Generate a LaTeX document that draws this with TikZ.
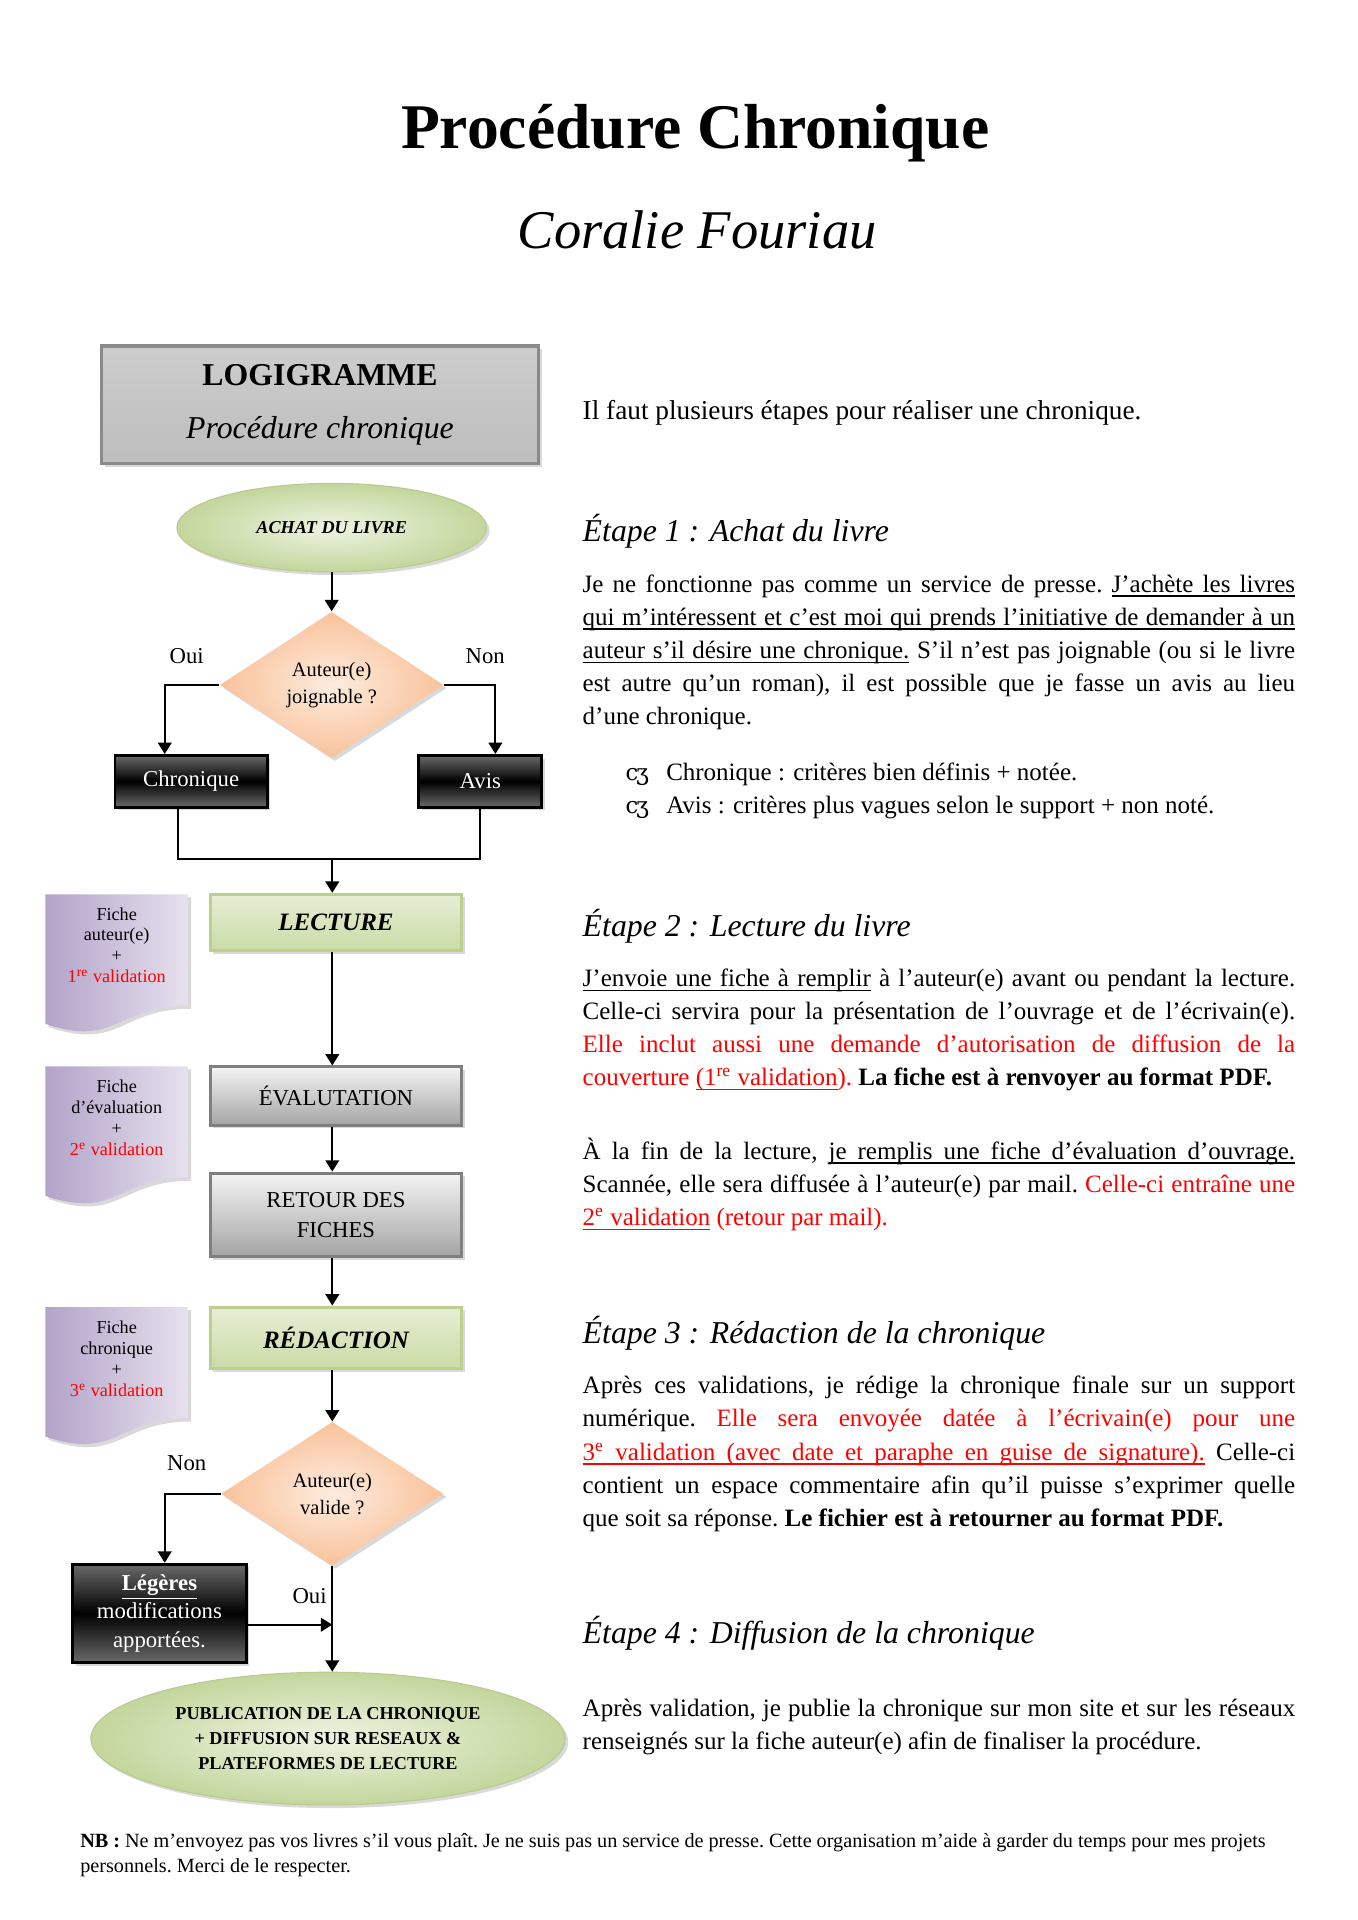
\documentclass[tikz,border=0pt]{standalone}
\usepackage{fontspec}
\setmainfont{Liberation Serif}
\newfontfamily\dvserif{DejaVu Serif}
\usetikzlibrary{shapes.geometric,shadows,arrows.meta,calc}
\def\pu{0.5407pt}
\newlength\colw \setlength\colw{313.6pt}
\newcommand\bodyfont{\fontsize{11}{14.6}\selectfont}
\newcommand\colpar[1]{\parbox[t]{\colw}{\bodyfont\frenchspacing\hyphenpenalty=10000\exhyphenpenalty=10000\leavevmode #1}}
% word-by-word underline with stretchable underlined spaces
\newcommand\ulw[1]{\leavevmode\setbox0\hbox{#1}\rlap{\vrule width\wd0 height -1.4pt depth 2.0pt}\box0\relax}
\def\ulsp{\leaders\hrule height -1.4pt depth 2.0pt\hskip\fontdimen2\font plus\fontdimen3\font minus\fontdimen4\font\relax}
\def\uline#1{\ulloop#1 \ulend}
\def\ulloop#1 #2\ulend{\ulw{#1}\ifx\relax#2\relax\else\ulsp\ulloop#2\ulend\fi}
\definecolor{hdrT}{HTML}{CDCDCD}
\definecolor{hdrB}{HTML}{BDBDBD}
\definecolor{hdrD}{HTML}{8A8A8A}
\definecolor{grnT}{HTML}{E6EED4}
\definecolor{grnB}{HTML}{CADBA6}
\definecolor{grnD}{HTML}{BBD08F}
\definecolor{gryT}{HTML}{F4F4F4}
\definecolor{gryB}{HTML}{A4A4A4}
\definecolor{gryD}{HTML}{7F7F7F}
\definecolor{blkT}{HTML}{6A6A6A}
\definecolor{ovlI}{HTML}{EEF4E2}
\definecolor{ovlO}{HTML}{C3D69C}
\definecolor{ovlD}{HTML}{B8CC8E}
\definecolor{dmdI}{HTML}{FDECDF}
\definecolor{dmdO}{HTML}{F9C29A}
\definecolor{purL}{HTML}{B3A3C9}
\definecolor{purR}{HTML}{E6E1EE}
\definecolor{red}{HTML}{FF0000}
\begin{document}
\begin{tikzpicture}[x=\pu,y=-\pu,
 shd/.style={drop shadow={shadow xshift=1.4pt,shadow yshift=-1.4pt,opacity=0.3}},
 ln/.style={line width=0.9pt},
 arr/.style={ln,-{Triangle[width=6pt,length=5pt]}},
 hdrbox/.style={rectangle,inner sep=0pt,top color=hdrT,bottom color=hdrB,draw=hdrD,line width=1.5pt,shd,align=center},
 greenbox/.style={rectangle,inner sep=0pt,top color=grnT,bottom color=grnB,draw=grnD,line width=1.3pt,shd,font=\fontsize{11}{13}\selectfont\bfseries\itshape},
 graybox/.style={rectangle,inner sep=0pt,top color=gryT,bottom color=gryB,draw=gryD,line width=1.3pt,shd,align=center,font=\fontsize{10}{13}\selectfont},
 blackbox/.style={rectangle,inner sep=0pt,top color=blkT,bottom color=blkT,middle color=black,draw=black,line width=1.3pt,shd,text=white,align=center,font=\fontsize{10}{12.7}\selectfont},
 greenoval/.style={ellipse,inner sep=0pt,inner color=ovlI,outer color=ovlO,draw=ovlD,line width=0.5pt,shd,align=center},
 decision/.style={diamond,inner sep=0pt,inner color=dmdI,outer color=dmdO,shd,align=center,font=\fontsize{9}{11.9}\selectfont},
 lbl/.style={inner sep=0pt,anchor=base,font=\fontsize{10}{12}\selectfont},
 doctext/.style={inner sep=0pt,align=center,font=\fontsize{8}{9.2}\selectfont},
 hd/.style={inner sep=0pt,anchor=base west,font=\fontsize{14}{17}\selectfont\itshape},
 para/.style={inner sep=0pt,anchor=base west},
 docshape/.style={left color=purL,right color=purR,shd},
]
\useasboundingbox (0,0) rectangle (1105,1563);

% titles
\node[inner sep=0pt,anchor=base,font=\fontsize{28}{34}\selectfont\bfseries] (title) at (566,121) {Procédure Chronique};
\node[inner sep=0pt,anchor=base,font=\fontsize{24}{29}\selectfont\itshape] (author) at (567.5,202) {Coralie Fouriau};

% header box
\node[hdrbox,minimum width=356*\pu,minimum height=96*\pu,font=\fontsize{14}{23.2}\selectfont] (hdr) at (260.5,329.5) {\textbf{LOGIGRAMME}\\\textit{Procédure chronique}};

% flowchart
\coordinate (ax) at (270.5,0);
\node[greenoval,minimum width=252*\pu,minimum height=72*\pu,font=\fontsize{8}{10}\selectfont\bfseries\itshape] (achat) at (270,429.5) {ACHAT DU LIVRE};
\node[decision,minimum width=182*\pu,minimum height=119*\pu] (d1) at (270,557.5) {Auteur(e)\\joignable ?};
\node[lbl] (oui1) at (152,540) {Oui};
\node[lbl] (non1) at (395,540) {Non};
\node[blackbox,minimum width=124*\pu,minimum height=42*\pu] (chron) at (155.6,636) {Chronique};
\node[blackbox,minimum width=100*\pu,minimum height=42*\pu] (avis) at (391,636) {Avis};
\node[greenbox,minimum width=205*\pu,minimum height=46*\pu] (lect) at (273.5,751) {LECTURE};
\node[graybox,minimum width=205*\pu,minimum height=47.5*\pu] (eval) at (273.5,892.3) {ÉVALUTATION};
\node[graybox,minimum width=205*\pu,minimum height=68*\pu] (ret) at (273.5,989) {RETOUR DES\\FICHES};
\node[greenbox,minimum width=205*\pu,minimum height=50*\pu] (redac) at (273.5,1089) {RÉDACTION};
\node[decision,minimum width=181*\pu,minimum height=117*\pu] (d2) at (270.5,1216) {Auteur(e)\\valide ?};
\node[lbl] (non2) at (152,1197) {Non};
\node[lbl] (oui2) at (252,1305) {Oui};
\node[blackbox,minimum width=141*\pu,minimum height=80*\pu] (leg) at (129.8,1313.4) {\underline{\textbf{Légères}}\\modifications\\apportées.};
\node[greenoval,minimum width=386*\pu,minimum height=108*\pu,font=\fontsize{8}{10.8}\selectfont\bfseries] (pub) at (267,1415.3) {PUBLICATION DE LA CHRONIQUE\\+ DIFFUSION SUR RESEAUX \&\\PLATEFORMES DE LECTURE};

% connectors
\draw[arr] (achat.south) -- (d1.north);
\draw[arr] (d1.west) -| ($(chron.north west)!0.33!(chron.north east)$);
\draw[arr] (d1.east) -| ($(avis.north west)!0.62!(avis.north east)$);
\coordinate (m1) at (270.5,699);
\draw[ln] ($(chron.south west)!0.417!(chron.south east)$) |- (m1) -| (avis.south);
\draw[arr] (m1) -- (m1 |- lect.north);
\draw[arr] (lect.south -| ax) -- (eval.north -| ax);
\draw[arr] (eval.south -| ax) -- (ret.north -| ax);
\draw[arr] (ret.south -| ax) -- (redac.north -| ax);
\draw[arr] (redac.south -| ax) -- (d2.north);
\draw[arr] (d2.west) -| ($(leg.north west)!0.53!(leg.north east)$);
\draw[arr] (d2.south) -- (d2.south |- pub.north);
\coordinate (lg) at ($(leg.east)+(0,9.2)$);
\draw[arr] (lg) -- (lg -| ax);

% documents
\shade[docshape] (37,728) -- (153,728) -- (153,818.6) .. controls (95,818.6) and (95,853.1) .. (37,833.5) -- cycle;
\shade[docshape] (37,868) -- (153,868) -- (153,958.6) .. controls (95,958.6) and (95,993.1) .. (37,973.5) -- cycle;
\shade[docshape] (37,1064) -- (153,1064) -- (153,1154.6) .. controls (95,1154.6) and (95,1189.1) .. (37,1169.5) -- cycle;
\node[doctext] (docA) at (95,769.4) {Fiche\\auteur(e)\\+\\\textcolor{red}{1\textsuperscript{re} validation}};
\node[doctext] (docB) at (95,910) {Fiche\\d’évaluation\\+\\\textcolor{red}{2\textsuperscript{e} validation}};
\node[doctext] (docC) at (95,1106.4) {Fiche\\chronique\\+\\\textcolor{red}{3\textsuperscript{e} validation}};

% right column
\node[para,font=\fontsize{12}{14}\selectfont] (intro) at (474,341.5) {Il faut plusieurs étapes pour réaliser une chronique.};

\node[hd] (h1) at (474,441) {Étape 1 : Achat du livre};
\node[para] (p1) at (474,482) {\colpar{Je ne fonctionne pas comme un service de presse. \uline{J’achète les livres}\linebreak
\uline{qui m’intéressent et c’est moi qui prends l’initiative de demander à un}\linebreak
\uline{auteur s’il désire une chronique.} S’il n’est pas joignable (ou si le livre\linebreak
est autre qu’un roman), il est possible que je fasse un avis au lieu\linebreak
d’une chronique.}};
\node[para,font=\dvserif\fontsize{10}{11}\selectfont] (g1) at (509,635) {c\kern-1ptʒ};
\node[para,font=\bodyfont] (b1) at (542,635) {Chronique : critères bien définis + notée.};
\node[para,font=\dvserif\fontsize{10}{11}\selectfont] (g2) at (509,662) {c\kern-1ptʒ};
\node[para,font=\bodyfont] (b2) at (542,662) {Avis : critères plus vagues selon le support + non noté.};

\node[hd] (h2) at (474,762) {Étape 2 : Lecture du livre};
\node[para] (p2a) at (474,803) {\colpar{\uline{J’envoie une fiche à remplir} à l’auteur(e) avant ou pendant la lecture.\linebreak
Celle-ci servira pour la présentation de l’ouvrage et de l’écrivain(e).\linebreak
\textcolor{red}{Elle inclut aussi une demande d’autorisation de diffusion de la}\linebreak
\textcolor{red}{couverture \uline{(1\textsuperscript{re} validation}).} \textbf{La fiche est à renvoyer au format PDF.}}};
\node[para] (p2b) at (474,943.5) {\colpar{À la fin de la lecture, \uline{je remplis une fiche d’évaluation d’ouvrage.}\linebreak
Scannée, elle sera diffusée à l’auteur(e) par mail. \textcolor{red}{Celle-ci entraîne une}\linebreak
\textcolor{red}{\uline{2\textsuperscript{e} validation} (retour par mail).}}};

\node[hd] (h3) at (474,1094) {Étape 3 : Rédaction de la chronique};
\node[para] (p3) at (474,1134.6) {\colpar{Après ces validations, je rédige la chronique finale sur un support\linebreak
numérique. \textcolor{red}{Elle sera envoyée datée à l’écrivain(e) pour une}\linebreak
\textcolor{red}{\uline{3\textsuperscript{e} validation (avec date et paraphe en guise de signature).}} Celle-ci\linebreak
contient un espace commentaire afin qu’il puisse s’exprimer quelle\linebreak
que soit sa réponse. \textbf{Le fichier est à retourner au format PDF.}}};

\node[hd] (h4) at (474,1338) {Étape 4 : Diffusion de la chronique};
\node[para] (p4) at (474,1397) {\colpar{Après validation, je publie la chronique sur mon site et sur les réseaux\linebreak
renseignés sur la fiche auteur(e) afin de finaliser la procédure.}};

% NB
\node[para] (nb) at (65,1504) {\parbox[t]{521.8pt}{\fontsize{8.9}{11.2}\selectfont\frenchspacing\hyphenpenalty=10000 \textbf{NB :} Ne m’envoyez pas vos livres s’il vous plaît. Je ne suis pas un service de presse. Cette organisation m’aide à garder du temps pour mes projets\linebreak
personnels. Merci de le respecter.}};
\end{tikzpicture}
\end{document}
